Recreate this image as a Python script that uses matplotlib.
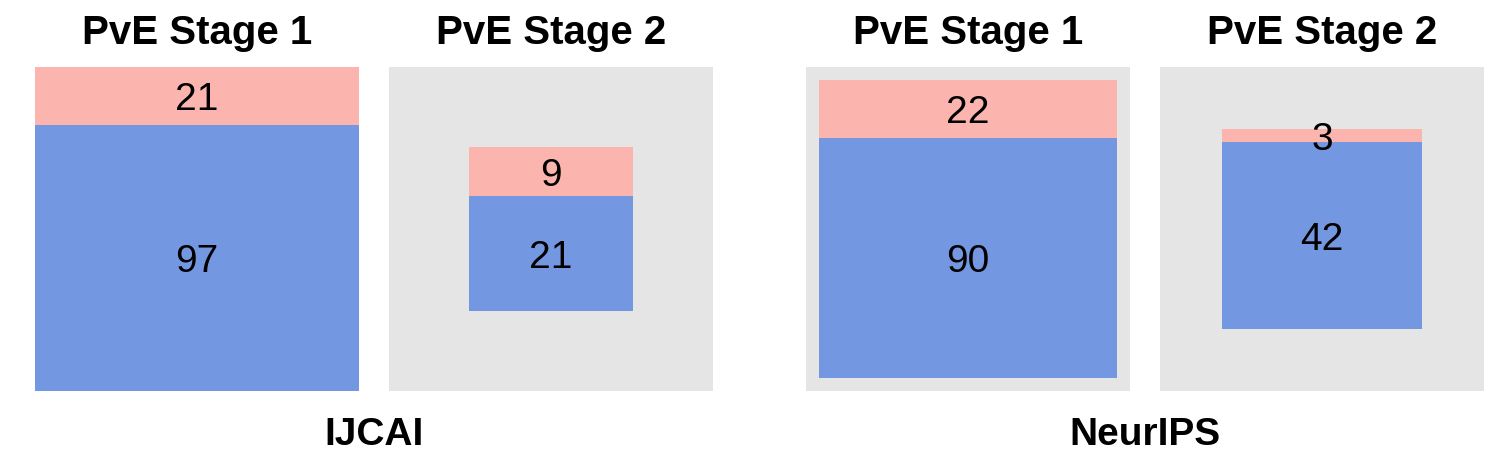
import numpy as np
import matplotlib.pyplot as plt
from matplotlib.patches import Rectangle

plt.rcParams['font.family'] = ['Liberation Sans', 'DejaVu Sans']

groups = ['IJCAI', 'NeurIPS']
stages = ['PvE Stage 1', 'PvE Stage 2']
top_vals = [21, 9, 22, 3]       # red part
bottom_vals = [97, 21, 90, 42]  # blue part
box_area = [118, 30, 100, 45]   # area of the square as drawn

red = '#FBB4AE'
blue = '#7497E2'
gray = '#E5E5E5'

W, H = 1505, 453
fig = plt.figure(figsize=(W / 100, H / 100), dpi=100)

panel_left = [35, 389, 806, 1160]
panel_size = 324
panel_top = 67

full = np.sqrt(max(box_area))
for i in range(4):
    ax = fig.add_axes([panel_left[i] / W, 1 - (panel_top + panel_size) / H,
                       panel_size / W, panel_size / H])
    ax.set_xlim(-full / 2, full / 2)
    ax.set_ylim(-full / 2, full / 2)
    ax.set_facecolor(gray)
    for s in ax.spines.values():
        s.set_visible(False)
    ax.set_xticks([])
    ax.set_yticks([])

    side = np.sqrt(box_area[i])
    total = top_vals[i] + bottom_vals[i]
    h_bot = side * bottom_vals[i] / total
    h_top = side * top_vals[i] / total
    y0 = -side / 2
    ax.add_patch(Rectangle((-side / 2, y0), side, h_bot, color=blue, lw=0))
    ax.add_patch(Rectangle((-side / 2, y0 + h_bot), side, h_top, color=red, lw=0))
    ax.text(0, y0 + h_bot / 2, str(bottom_vals[i]), ha='center',
            va='center_baseline', fontsize=28)
    ax.text(0, y0 + h_bot + h_top / 2, str(top_vals[i]), ha='center',
            va='center_baseline', fontsize=28)

    xc = (panel_left[i] + panel_size / 2) / W
    fig.text(xc, 1 - 29 / H, stages[i % 2], ha='center', va='center_baseline',
             fontsize=29, fontweight='bold')

for g in range(2):
    xc = (panel_left[2 * g] + panel_left[2 * g + 1] + panel_size) / 2
    fig.text(xc / W, 1 - 431 / H, groups[g], ha='center', va='center_baseline',
             fontsize=28, fontweight='bold')

fig.savefig('out.png', dpi=100)
